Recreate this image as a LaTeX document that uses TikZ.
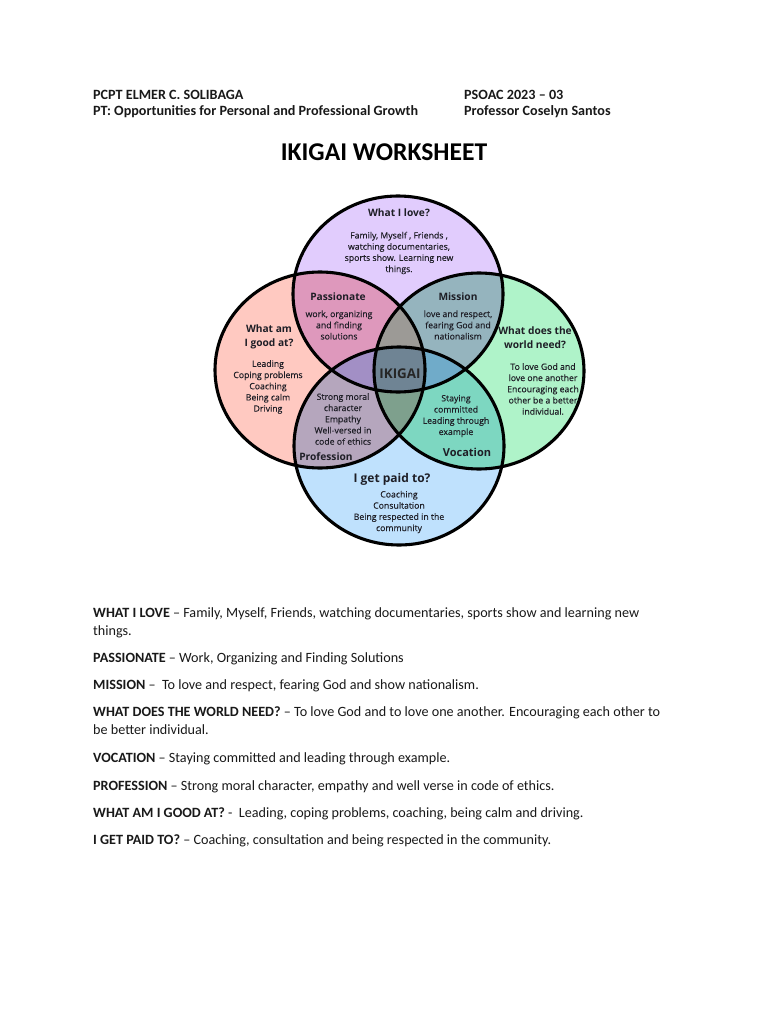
\documentclass[tikz,border=0pt]{standalone}
\usepackage{fontspec}
\setmainfont{Carlito}
\newfontfamily\dgm{Open Sans}
\newfontfamily\dgmr[FakeBold=0.25]{Open Sans}
\definecolor{cTop}{HTML}{E1CCFD}
\definecolor{cLeft}{HTML}{FFC9C1}
\definecolor{cRight}{HTML}{AFF3C9}
\definecolor{cBot}{HTML}{BFE1FD}
\definecolor{cTL}{HTML}{DE98BC}
\definecolor{cTR}{HTML}{95B4BE}
\definecolor{cRB}{HTML}{7DD7C1}
\definecolor{cLB}{HTML}{B5A6BD}
\definecolor{cTLR}{HTML}{9C9A96}
\definecolor{cTLB}{HTML}{A28FC5}
\definecolor{cTRB}{HTML}{70ABC9}
\definecolor{cLRB}{HTML}{7EA08D}
\definecolor{cAll}{HTML}{6F8494}
\definecolor{ink}{HTML}{1E1E26}
\tikzset{
  x=1pt,y=-1pt,
  head/.style={anchor=base west,inner sep=0pt,font=\fontsize{14.15}{16}\selectfont\bfseries,text=black!90},
  bodyline/.style={anchor=base west,inner sep=0pt,font=\fontsize{14.15}{16}\selectfont,text=black!90},
  title/.style={inner sep=0pt,font=\fontsize{25.6}{28}\selectfont\bfseries},
  lab/.style={inner sep=0pt,align=center,text=ink,font=\dgmr\fontsize{8.7}{11.2}\selectfont},
  capt/.style={inner sep=0pt,align=center,text=ink,font=\dgm\fontsize{10.2}{14}\selectfont\bfseries},
  ring/.style={draw=black,line width=3.1pt,fill=none},
}
\def\eT{(398,294) ellipse [x radius=105, y radius=98]}
\def\eL{(320,370) ellipse [x radius=105, y radius=98]}
\def\eR{(479,371) ellipse [x radius=105, y radius=98]}
\def\eB{(399,446) ellipse [x radius=105, y radius=99]}
\begin{document}
\begin{tikzpicture}
\useasboundingbox (0,0) rectangle (768,1024);
\fill[white] (0,0) rectangle (768,1024);
% header
\node[head] (h1) at (93,100) {PCPT ELMER C. SOLIBAGA};
\node[head] (h2) at (93,116) {PT: Opportunities for Personal and Professional Growth};
\node[head] (h3) at (464,100) {PSOAC 2023 – 03};
\node[head] (h4) at (464,116) {Professor Coselyn Santos};
\node[title] (t) at (384,152) {IKIGAI WORKSHEET};
% fills
\fill[cTop] \eT; \fill[cLeft] \eL; \fill[cRight] \eR; \fill[cBot] \eB;
\begin{scope}\clip \eT; \fill[cTL] \eL; \fill[cTR] \eR;
  \begin{scope}\clip \eL; \fill[cTLR] \eR; \end{scope}
\end{scope}
\begin{scope}\clip \eB; \fill[cLB] \eL; \fill[cRB] \eR;
  \begin{scope}\clip \eL; \fill[cLRB] \eR; \end{scope}
  \begin{scope}\clip \eT; \fill[cTLB] \eL; \fill[cTRB] \eR;
    \begin{scope}\clip \eL; \clip \eR; \fill[cAll] (300,300) rectangle (500,450); \end{scope}
  \end{scope}
\end{scope}
\draw[ring] \eT; \draw[ring] \eL; \draw[ring] \eR; \draw[ring] \eB;
% diagram text
\node[capt] (a1) at (399,213) {What I love?};
\node[lab] (a2) at (399,253) {Family, Myself , Friends ,\\watching documentaries,\\sports show. Learning new\\things.};
\node[capt] (b1) at (338,297) {Passionate};
\node[lab] (b2) at (339,325) {work, organizing\\and finding\\solutions};
\node[capt] (c1) at (458,297) {Mission};
\node[lab] (c2) at (458,325) {love and respect,\\fearing God and\\nationalism};
\node[capt] (d1) at (269,337) {What am\\I good at?};
\node[lab] (d2) at (268,387) {Leading\\Coping problems\\Coaching\\Being calm\\Driving};
\node[capt] (e1) at (535,338) {What does the\\world need?};
\node[lab] (e2) at (543,389) {To love God and\\love one another\\Encouraging each\\other be a better\\individual.};
\node[capt,text=black!85,font=\dgm\bfseries\fontsize{13.4}{14}\selectfont] (m) at (400,374) {IKIGAI};
\node[lab] (f1) at (343,419) {Strong moral\\character\\Empathy\\Well-versed in\\code of ethics};
\node[capt] (f2) at (326,457) {Profession};
\node[lab] (g1) at (456,416) {Staying\\committed\\Leading through\\example};
\node[capt,font=\dgm\bfseries\fontsize{11}{14}\selectfont] (g2) at (467,452) {Vocation};
\node[capt,font=\dgm\bfseries\fontsize{12}{14}\selectfont] (i1) at (392,479) {I get paid to?};
\node[lab] (i2) at (399,512) {Coaching\\Consultation\\Being respected in the\\community};
% body
\node[bodyline] (l1) at (93,617) {\textbf{WHAT I LOVE} – Family, Myself, Friends, watching documentaries, sports show and learning new};
\node[bodyline] (l2) at (93,635) {things.};
\node[bodyline] (l3) at (93,662) {\textbf{PASSIONATE} – Work, Organizing and Finding Solutions};
\node[bodyline] (l4) at (93,689) {\textbf{MISSION} –\ \ To love and respect, fearing God and show nationalism.};
\node[bodyline] (l5) at (93,716) {\textbf{WHAT DOES THE WORLD NEED?} – To love God and to love one another. Encouraging each other to};
\node[bodyline] (l6) at (93,734) {be better individual.};
\node[bodyline] (l7) at (93,762) {\textbf{VOCATION} – Staying committed and leading through example.};
\node[bodyline] (l8) at (93,790) {\textbf{PROFESSION} – Strong moral character, empathy and well verse in code of ethics.};
\node[bodyline] (l9) at (93,817) {\textbf{WHAT AM I GOOD AT?} -\ \ Leading, coping problems, coaching, being calm and driving.};
\node[bodyline] (l10) at (93,844) {\textbf{I GET PAID TO?} – Coaching, consultation and being respected in the community.};
\end{tikzpicture}
\end{document}
